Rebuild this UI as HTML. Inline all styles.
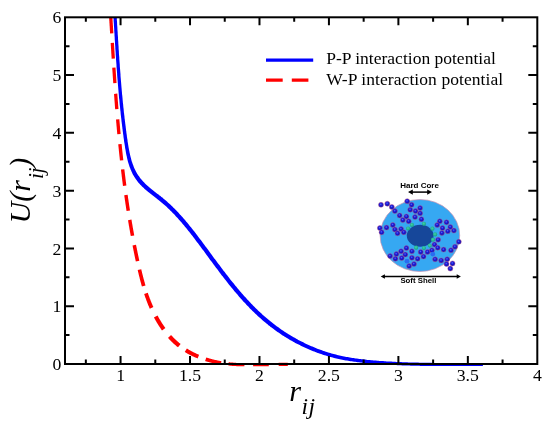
<!DOCTYPE html>
<html><head><meta charset="utf-8"><title>Interaction potential</title>
<style>html,body{margin:0;padding:0;background:#fff}svg{display:block}text{font-family:"Liberation Serif",serif;fill:#000}.s{font-family:"Liberation Sans",sans-serif;font-weight:bold}</style></head><body>
<svg width="550" height="426" viewBox="0 0 550 426">
<rect width="550" height="426" fill="#fff"/>
<defs><clipPath id="c"><rect x="65.0" y="17.3" width="472.3" height="349.7"/></clipPath>
<radialGradient id="g" cx="45%" cy="40%" r="60%"><stop offset="0" stop-color="#5868f8"/><stop offset="0.4" stop-color="#1a1ad8"/><stop offset="1" stop-color="#1010a8"/></radialGradient>
<radialGradient id="t" cx="45%" cy="40%" r="60%"><stop offset="0" stop-color="#40d0a8"/><stop offset="1" stop-color="#14a080"/></radialGradient>
</defs>
<g clip-path="url(#c)" fill="none" stroke-linejoin="round">
<path d="M108.8,11.4L108.8,11.7L108.8,12.0L108.8,12.3L108.8,12.7L108.9,13.0L108.9,13.3L108.9,13.6L108.9,13.9L108.9,14.2L109.0,14.6L109.0,14.9L109.0,15.2L109.0,15.5L109.0,15.8L109.0,16.1L109.1,16.5L109.1,16.8L109.1,17.1L109.1,17.4L109.1,17.7L109.2,18.0L109.2,18.3L109.2,18.7L109.2,19.0L109.2,19.3L109.3,19.6L109.3,19.9L109.3,20.2L109.3,20.6L109.3,20.9L109.4,21.2L109.4,21.5L109.4,21.8L109.4,22.1L109.4,22.5L109.4,22.8L109.5,23.1L109.5,23.4L109.5,23.7L109.5,24.0L109.5,24.3L109.6,24.7L109.6,25.0L109.6,25.3L109.6,25.6L109.6,25.9L109.7,26.2L109.7,26.6L109.7,26.9L109.7,27.2L109.7,27.5L109.8,27.8L109.8,28.1L109.8,28.4L109.8,28.8L109.8,29.1L109.8,29.4L109.9,29.7L109.9,30.0L109.9,30.3L109.9,30.7L109.9,31.0L110.0,31.3L110.0,31.6L110.0,31.9L110.0,32.2L110.0,32.5L110.1,32.9L110.1,33.2L110.1,33.5L113.4,33.3L113.4,33.0L113.3,32.7L113.3,32.3L113.3,32.0L113.3,31.7L113.3,31.4L113.2,31.1L113.2,30.8L113.2,30.5L113.2,30.1L113.2,29.8L113.1,29.5L113.1,29.2L113.1,28.9L113.1,28.6L113.1,28.2L113.0,27.9L113.0,27.6L113.0,27.3L113.0,27.0L113.0,26.7L113.0,26.4L112.9,26.0L112.9,25.7L112.9,25.4L112.9,25.1L112.9,24.8L112.8,24.5L112.8,24.1L112.8,23.8L112.8,23.5L112.8,23.2L112.7,22.9L112.7,22.6L112.7,22.3L112.7,21.9L112.7,21.6L112.6,21.3L112.6,21.0L112.6,20.7L112.6,20.4L112.6,20.0L112.6,19.7L112.5,19.4L112.5,19.1L112.5,18.8L112.5,18.5L112.5,18.1L112.4,17.8L112.4,17.5L112.4,17.2L112.4,16.9L112.4,16.6L112.3,16.3L112.3,15.9L112.3,15.6L112.3,15.3L112.3,15.0L112.2,14.7L112.2,14.4L112.2,14.0L112.2,13.7L112.2,13.4L112.2,13.1L112.1,12.8L112.1,12.5L112.1,12.1L112.1,11.8L112.1,11.5L112.0,11.2ZM110.7,42.9L110.7,43.3L110.7,43.6L110.7,43.9L110.7,44.2L110.8,44.5L110.8,44.8L110.8,45.2L110.8,45.5L110.8,45.8L110.9,46.1L110.9,46.4L110.9,46.7L110.9,47.0L110.9,47.4L111.0,47.7L111.0,48.0L111.0,48.3L111.0,48.6L111.0,48.9L111.1,49.2L111.1,49.6L111.1,49.9L111.1,50.2L111.1,50.5L111.2,50.8L111.2,51.1L111.2,51.4L111.2,51.8L111.2,52.1L111.2,52.4L111.3,52.7L111.3,53.0L111.3,53.3L111.3,53.7L111.3,54.0L111.4,54.3L111.4,54.6L111.4,54.9L111.4,55.2L111.4,55.5L111.5,55.9L111.5,56.2L111.5,56.5L111.5,56.8L111.5,57.1L111.6,57.4L111.6,57.7L111.6,58.1L111.6,58.4L111.6,58.7L114.9,58.5L114.9,58.2L114.9,57.9L114.9,57.5L114.8,57.2L114.8,56.9L114.8,56.6L114.8,56.3L114.8,56.0L114.7,55.6L114.7,55.3L114.7,55.0L114.7,54.7L114.7,54.4L114.6,54.1L114.6,53.8L114.6,53.4L114.6,53.1L114.6,52.8L114.5,52.5L114.5,52.2L114.5,51.9L114.5,51.6L114.5,51.2L114.4,50.9L114.4,50.6L114.4,50.3L114.4,50.0L114.4,49.7L114.4,49.4L114.3,49.0L114.3,48.7L114.3,48.4L114.3,48.1L114.3,47.8L114.2,47.5L114.2,47.2L114.2,46.8L114.2,46.5L114.2,46.2L114.1,45.9L114.1,45.6L114.1,45.3L114.1,45.0L114.1,44.6L114.0,44.3L114.0,44.0L114.0,43.7L114.0,43.4L114.0,43.1L113.9,42.7ZM112.2,67.8L112.2,68.1L112.3,68.4L112.3,68.8L112.3,69.1L112.3,69.4L112.3,69.7L112.4,70.0L112.4,70.3L112.4,70.6L112.4,71.0L112.4,71.3L112.5,71.6L112.5,71.9L112.5,72.2L112.5,72.5L112.6,72.8L112.6,73.2L112.6,73.5L112.6,73.8L112.6,74.1L112.7,74.4L112.7,74.7L112.7,75.0L112.7,75.4L112.7,75.7L112.8,76.0L112.8,76.3L112.8,76.6L112.8,76.9L112.8,77.2L112.9,77.6L112.9,77.9L112.9,78.2L112.9,78.5L113.0,78.8L113.0,79.1L113.0,79.4L113.0,79.8L113.0,80.1L113.1,80.4L113.1,80.7L113.1,81.0L113.1,81.3L113.1,81.6L113.2,81.9L113.2,82.3L113.2,82.6L113.2,82.9L113.3,83.2L116.5,83.0L116.5,82.7L116.5,82.4L116.5,82.0L116.5,81.7L116.4,81.4L116.4,81.1L116.4,80.8L116.4,80.5L116.3,80.2L116.3,79.8L116.3,79.5L116.3,79.2L116.3,78.9L116.2,78.6L116.2,78.3L116.2,78.0L116.2,77.6L116.2,77.3L116.1,77.0L116.1,76.7L116.1,76.4L116.1,76.1L116.1,75.8L116.0,75.4L116.0,75.1L116.0,74.8L116.0,74.5L115.9,74.2L115.9,73.9L115.9,73.6L115.9,73.2L115.9,72.9L115.8,72.6L115.8,72.3L115.8,72.0L115.8,71.7L115.8,71.4L115.7,71.1L115.7,70.7L115.7,70.4L115.7,70.1L115.7,69.8L115.6,69.5L115.6,69.2L115.6,68.9L115.6,68.5L115.6,68.2L115.5,67.9L115.5,67.6ZM114.0,93.9L114.0,94.2L114.1,94.5L114.1,94.8L114.1,95.1L114.1,95.4L114.1,95.8L114.2,96.1L114.2,96.4L114.2,96.7L114.2,97.0L114.3,97.3L114.3,97.6L114.3,98.0L114.3,98.3L114.4,98.6L114.4,98.9L114.4,99.2L114.4,99.5L114.4,99.8L114.5,100.2L114.5,100.5L114.5,100.8L114.5,101.1L114.6,101.4L114.6,101.7L114.6,102.0L114.6,102.3L114.7,102.7L114.7,103.0L114.7,103.3L114.7,103.6L114.8,103.9L114.8,104.2L114.8,104.5L114.8,104.9L114.8,105.2L114.9,105.5L114.9,105.8L114.9,106.1L114.9,106.4L115.0,106.7L115.0,107.1L115.0,107.4L115.0,107.7L115.1,108.0L115.1,108.3L115.1,108.6L115.1,108.9L115.2,109.2L118.5,109.0L118.5,108.7L118.4,108.4L118.4,108.0L118.4,107.7L118.4,107.4L118.3,107.1L118.3,106.8L118.3,106.5L118.3,106.2L118.2,105.9L118.2,105.5L118.2,105.2L118.2,104.9L118.1,104.6L118.1,104.3L118.1,104.0L118.1,103.7L118.0,103.3L118.0,103.0L118.0,102.7L118.0,102.4L117.9,102.1L117.9,101.8L117.9,101.5L117.9,101.2L117.8,100.8L117.8,100.5L117.8,100.2L117.8,99.9L117.7,99.6L117.7,99.3L117.7,99.0L117.7,98.7L117.7,98.3L117.6,98.0L117.6,97.7L117.6,97.4L117.6,97.1L117.5,96.8L117.5,96.5L117.5,96.1L117.5,95.8L117.4,95.5L117.4,95.2L117.4,94.9L117.4,94.6L117.4,94.3L117.3,94.0L117.3,93.6ZM116.0,119.6L116.0,119.9L116.1,120.2L116.1,120.5L116.1,120.8L116.1,121.2L116.2,121.5L116.2,121.8L116.2,122.1L116.2,122.4L116.3,122.7L116.3,123.0L116.3,123.3L116.4,123.7L116.4,124.0L116.4,124.3L116.4,124.6L116.5,124.9L116.5,125.2L116.5,125.5L116.5,125.9L116.6,126.2L116.6,126.5L116.6,126.8L116.7,127.1L116.7,127.4L116.7,127.7L116.7,128.0L116.8,128.4L116.8,128.7L116.8,129.0L116.8,129.3L116.9,129.6L116.9,129.9L116.9,130.2L117.0,130.5L117.0,130.9L117.0,131.2L117.0,131.5L117.1,131.8L117.1,132.1L117.1,132.4L117.2,132.7L117.2,133.1L117.2,133.4L117.2,133.7L117.3,134.0L117.3,134.3L120.6,134.0L120.6,133.7L120.6,133.4L120.5,133.1L120.5,132.7L120.5,132.4L120.5,132.1L120.4,131.8L120.4,131.5L120.4,131.2L120.3,130.9L120.3,130.6L120.3,130.2L120.3,129.9L120.2,129.6L120.2,129.3L120.2,129.0L120.1,128.7L120.1,128.4L120.1,128.1L120.1,127.7L120.0,127.4L120.0,127.1L120.0,126.8L120.0,126.5L119.9,126.2L119.9,125.9L119.9,125.6L119.8,125.2L119.8,124.9L119.8,124.6L119.8,124.3L119.7,124.0L119.7,123.7L119.7,123.4L119.7,123.1L119.6,122.7L119.6,122.4L119.6,122.1L119.5,121.8L119.5,121.5L119.5,121.2L119.5,120.9L119.4,120.6L119.4,120.2L119.4,119.9L119.4,119.6L119.3,119.3ZM118.3,144.3L118.3,144.6L118.3,144.9L118.3,145.3L118.4,145.6L118.4,145.9L118.4,146.2L118.5,146.5L118.5,146.8L118.5,147.1L118.6,147.4L118.6,147.8L118.6,148.1L118.7,148.4L118.7,148.7L118.7,149.0L118.8,149.3L118.8,149.6L118.8,149.9L118.8,150.3L118.9,150.6L118.9,150.9L118.9,151.2L119.0,151.5L119.0,151.8L119.0,152.1L119.1,152.4L119.1,152.8L119.1,153.1L119.2,153.4L119.2,153.7L119.2,154.0L119.3,154.3L119.3,154.6L119.3,154.9L119.4,155.3L119.4,155.6L119.4,155.9L119.5,156.2L119.5,156.5L119.5,156.8L119.6,157.1L119.6,157.4L119.6,157.8L119.7,158.1L119.7,158.4L119.7,158.7L119.8,159.0L119.8,159.3L119.8,159.6L119.9,159.9L119.9,160.3L119.9,160.6L123.3,160.2L123.3,159.9L123.2,159.6L123.2,159.3L123.2,159.0L123.1,158.6L123.1,158.3L123.1,158.0L123.0,157.7L123.0,157.4L123.0,157.1L122.9,156.8L122.9,156.5L122.9,156.1L122.8,155.8L122.8,155.5L122.8,155.2L122.7,154.9L122.7,154.6L122.7,154.3L122.6,154.0L122.6,153.7L122.6,153.3L122.5,153.0L122.5,152.7L122.5,152.4L122.4,152.1L122.4,151.8L122.4,151.5L122.3,151.2L122.3,150.8L122.3,150.5L122.2,150.2L122.2,149.9L122.2,149.6L122.1,149.3L122.1,149.0L122.1,148.7L122.0,148.4L122.0,148.0L122.0,147.7L121.9,147.4L121.9,147.1L121.9,146.8L121.9,146.5L121.8,146.2L121.8,145.9L121.8,145.5L121.7,145.2L121.7,144.9L121.7,144.6L121.6,144.3L121.6,144.0ZM121.0,169.6L121.0,169.9L121.0,170.3L121.1,170.6L121.1,170.9L121.1,171.2L121.2,171.5L121.2,171.8L121.3,172.1L121.3,172.4L121.3,172.8L121.4,173.1L121.4,173.4L121.4,173.7L121.5,174.0L121.5,174.3L121.6,174.6L121.6,174.9L121.6,175.3L121.7,175.6L121.7,175.9L121.7,176.2L121.8,176.5L121.8,176.8L121.9,177.1L121.9,177.4L121.9,177.8L122.0,178.1L122.0,178.4L122.1,178.7L122.1,179.0L122.1,179.3L122.2,179.6L122.2,179.9L122.2,180.3L122.3,180.6L122.3,180.9L122.4,181.2L122.4,181.5L122.4,181.8L122.5,182.1L122.5,182.4L122.6,182.7L122.6,183.1L122.6,183.4L122.7,183.7L122.7,184.0L122.8,184.3L122.8,184.6L122.8,184.9L122.9,185.2L122.9,185.6L123.0,185.9L126.4,185.4L126.3,185.1L126.3,184.8L126.3,184.5L126.2,184.2L126.2,183.9L126.1,183.6L126.1,183.2L126.0,182.9L126.0,182.6L126.0,182.3L125.9,182.0L125.9,181.7L125.8,181.4L125.8,181.1L125.8,180.8L125.7,180.4L125.7,180.1L125.6,179.8L125.6,179.5L125.6,179.2L125.5,178.9L125.5,178.6L125.4,178.3L125.4,178.0L125.4,177.6L125.3,177.3L125.3,177.0L125.3,176.7L125.2,176.4L125.2,176.1L125.1,175.8L125.1,175.5L125.1,175.2L125.0,174.8L125.0,174.5L124.9,174.2L124.9,173.9L124.9,173.6L124.8,173.3L124.8,173.0L124.8,172.7L124.7,172.3L124.7,172.0L124.6,171.7L124.6,171.4L124.6,171.1L124.5,170.8L124.5,170.5L124.5,170.2L124.4,169.9L124.4,169.5L124.3,169.2ZM124.2,195.2L124.3,195.5L124.3,195.9L124.4,196.2L124.4,196.5L124.4,196.8L124.5,197.1L124.5,197.4L124.6,197.7L124.6,198.0L124.7,198.3L124.7,198.7L124.8,199.0L124.8,199.3L124.8,199.6L124.9,199.9L124.9,200.2L125.0,200.5L125.0,200.8L125.1,201.2L125.1,201.5L125.2,201.8L125.2,202.1L125.3,202.4L125.3,202.7L125.3,203.0L125.4,203.3L125.4,203.7L125.5,204.0L125.5,204.3L125.6,204.6L125.6,204.9L125.7,205.2L125.7,205.5L125.8,205.8L125.8,206.1L125.9,206.5L125.9,206.8L125.9,207.1L126.0,207.4L126.0,207.7L126.1,208.0L126.1,208.3L126.2,208.6L126.2,209.0L126.3,209.3L126.3,209.6L126.4,209.9L126.4,210.2L126.5,210.5L126.5,210.8L126.6,211.1L130.0,210.6L130.0,210.3L129.9,210.0L129.9,209.7L129.8,209.4L129.8,209.0L129.7,208.7L129.7,208.4L129.6,208.1L129.6,207.8L129.5,207.5L129.5,207.2L129.4,206.9L129.4,206.6L129.3,206.2L129.3,205.9L129.2,205.6L129.2,205.3L129.1,205.0L129.1,204.7L129.1,204.4L129.0,204.1L129.0,203.8L128.9,203.5L128.9,203.1L128.8,202.8L128.8,202.5L128.7,202.2L128.7,201.9L128.6,201.6L128.6,201.3L128.5,201.0L128.5,200.7L128.5,200.3L128.4,200.0L128.4,199.7L128.3,199.4L128.3,199.1L128.2,198.8L128.2,198.5L128.1,198.2L128.1,197.9L128.0,197.5L128.0,197.2L128.0,196.9L127.9,196.6L127.9,196.3L127.8,196.0L127.8,195.7L127.7,195.4L127.7,195.1L127.6,194.8ZM128.0,220.2L128.1,220.5L128.1,220.8L128.2,221.1L128.2,221.4L128.3,221.7L128.3,222.0L128.4,222.4L128.4,222.7L128.5,223.0L128.5,223.3L128.6,223.6L128.6,223.9L128.7,224.2L128.7,224.5L128.8,224.8L128.8,225.2L128.9,225.5L128.9,225.8L129.0,226.1L129.1,226.4L129.1,226.7L129.2,227.0L129.2,227.3L129.3,227.7L129.3,228.0L129.4,228.3L129.4,228.6L129.5,228.9L129.5,229.2L129.6,229.5L129.6,229.8L129.7,230.1L129.8,230.5L129.8,230.8L129.9,231.1L129.9,231.4L130.0,231.7L130.0,232.0L130.1,232.3L130.1,232.6L130.2,232.9L130.3,233.3L130.3,233.6L130.4,233.9L130.4,234.2L130.5,234.5L130.5,234.8L130.6,235.1L130.7,235.4L130.7,235.8L130.8,236.1L134.2,235.4L134.2,235.1L134.1,234.8L134.1,234.5L134.0,234.2L134.0,233.9L133.9,233.6L133.8,233.3L133.8,232.9L133.7,232.6L133.7,232.3L133.6,232.0L133.6,231.7L133.5,231.4L133.5,231.1L133.4,230.8L133.3,230.5L133.3,230.2L133.2,229.8L133.2,229.5L133.1,229.2L133.1,228.9L133.0,228.6L133.0,228.3L132.9,228.0L132.8,227.7L132.8,227.4L132.7,227.0L132.7,226.7L132.6,226.4L132.6,226.1L132.5,225.8L132.5,225.5L132.4,225.2L132.4,224.9L132.3,224.6L132.3,224.3L132.2,223.9L132.1,223.6L132.1,223.3L132.0,223.0L132.0,222.7L131.9,222.4L131.9,222.1L131.8,221.8L131.8,221.5L131.7,221.2L131.7,220.8L131.6,220.5L131.6,220.2L131.5,219.9L131.5,219.6ZM132.5,245.4L132.6,245.7L132.6,246.0L132.7,246.3L132.8,246.7L132.8,247.0L132.9,247.3L132.9,247.6L133.0,247.9L133.1,248.2L133.1,248.5L133.2,248.8L133.3,249.1L133.3,249.5L133.4,249.8L133.4,250.1L133.5,250.4L133.6,250.7L133.6,251.0L133.7,251.3L133.8,251.6L133.8,251.9L133.9,252.3L133.9,252.6L134.0,252.9L134.1,253.2L134.1,253.5L134.2,253.8L134.3,254.1L134.3,254.4L134.4,254.7L134.5,255.1L134.5,255.4L134.6,255.7L134.6,256.0L134.7,256.3L134.8,256.6L134.8,256.9L134.9,257.2L135.0,257.5L135.0,257.9L135.1,258.2L135.2,258.5L135.2,258.8L135.3,259.1L135.4,259.4L135.4,259.7L135.5,260.0L135.6,260.4L135.6,260.7L135.7,261.0L135.8,261.3L135.8,261.6L139.4,260.8L139.3,260.5L139.2,260.2L139.1,259.9L139.1,259.6L139.0,259.3L138.9,259.0L138.9,258.7L138.8,258.4L138.8,258.0L138.7,257.7L138.6,257.4L138.6,257.1L138.5,256.8L138.4,256.5L138.4,256.2L138.3,255.9L138.2,255.6L138.2,255.3L138.1,254.9L138.0,254.6L138.0,254.3L137.9,254.0L137.8,253.7L137.8,253.4L137.7,253.1L137.6,252.8L137.6,252.5L137.5,252.2L137.5,251.9L137.4,251.5L137.3,251.2L137.3,250.9L137.2,250.6L137.1,250.3L137.1,250.0L137.0,249.7L136.9,249.4L136.9,249.1L136.8,248.8L136.8,248.4L136.7,248.1L136.6,247.8L136.6,247.5L136.5,247.2L136.4,246.9L136.4,246.6L136.3,246.3L136.3,246.0L136.2,245.7L136.1,245.3L136.1,245.0L136.0,244.7ZM137.7,270.0L137.8,270.3L137.8,270.6L137.9,270.9L138.0,271.2L138.0,271.6L138.1,271.9L138.2,272.2L138.3,272.5L138.3,272.8L138.4,273.1L138.5,273.4L138.6,273.7L138.6,274.0L138.7,274.4L138.8,274.7L138.9,275.0L138.9,275.3L139.0,275.6L139.1,275.9L139.2,276.2L139.2,276.5L139.3,276.8L139.4,277.1L139.5,277.5L139.6,277.8L139.6,278.1L139.7,278.4L139.8,278.7L139.9,279.0L139.9,279.3L140.0,279.6L140.1,279.9L140.2,280.2L140.3,280.6L140.3,280.9L140.4,281.2L140.5,281.5L140.6,281.8L140.7,282.1L140.8,282.4L140.8,282.7L140.9,283.0L141.0,283.3L141.1,283.6L141.2,283.9L141.3,284.3L141.3,284.6L141.4,284.9L141.5,285.2L141.6,285.5L141.7,285.8L141.8,286.1L141.9,286.4L145.5,285.4L145.4,285.1L145.3,284.8L145.2,284.5L145.1,284.2L145.0,283.9L144.9,283.6L144.8,283.2L144.8,282.9L144.7,282.6L144.6,282.3L144.5,282.0L144.4,281.7L144.3,281.4L144.3,281.1L144.2,280.8L144.1,280.5L144.0,280.2L143.9,279.9L143.8,279.6L143.8,279.3L143.7,279.0L143.6,278.7L143.5,278.4L143.4,278.1L143.4,277.8L143.3,277.5L143.2,277.2L143.1,276.9L143.0,276.6L143.0,276.2L142.9,275.9L142.8,275.6L142.7,275.3L142.6,275.0L142.6,274.7L142.5,274.4L142.4,274.1L142.3,273.8L142.3,273.5L142.2,273.2L142.1,272.9L142.0,272.6L142.0,272.3L141.9,272.0L141.8,271.6L141.7,271.3L141.7,271.0L141.6,270.7L141.5,270.4L141.4,270.1L141.4,269.8L141.3,269.5L141.2,269.2ZM144.2,294.1L144.3,294.4L144.4,294.7L144.5,295.0L144.6,295.3L144.7,295.6L144.8,295.9L144.9,296.2L145.0,296.5L145.1,296.8L145.2,297.1L145.3,297.4L145.4,297.7L145.5,298.0L145.7,298.3L145.8,298.6L145.9,298.9L146.0,299.2L146.1,299.5L146.2,299.8L146.3,300.1L146.4,300.4L146.5,300.7L146.6,301.0L146.7,301.3L146.9,301.6L147.0,301.9L147.1,302.2L147.2,302.5L147.3,302.8L147.4,303.1L147.6,303.4L147.7,303.7L147.8,304.0L147.9,304.3L148.0,304.6L148.1,304.9L148.3,305.2L148.4,305.5L148.5,305.8L148.6,306.1L148.8,306.3L148.9,306.6L149.0,306.9L149.1,307.2L149.2,307.5L149.4,307.8L149.5,308.1L149.6,308.4L149.8,308.7L153.4,307.1L153.3,306.8L153.1,306.5L153.0,306.2L152.9,306.0L152.8,305.7L152.6,305.4L152.5,305.1L152.4,304.8L152.3,304.5L152.1,304.2L152.0,304.0L151.9,303.7L151.8,303.4L151.7,303.1L151.5,302.8L151.4,302.5L151.3,302.2L151.2,301.9L151.1,301.6L150.9,301.4L150.8,301.1L150.7,300.8L150.6,300.5L150.5,300.2L150.4,299.9L150.3,299.6L150.2,299.3L150.0,299.0L149.9,298.7L149.8,298.4L149.7,298.2L149.6,297.9L149.5,297.6L149.4,297.3L149.3,297.0L149.2,296.7L149.1,296.4L149.0,296.1L148.8,295.8L148.7,295.5L148.6,295.2L148.5,294.9L148.4,294.6L148.3,294.3L148.2,294.0L148.1,293.7L148.0,293.4L147.9,293.1L147.8,292.8ZM153.9,317.4L154.1,317.7L154.2,317.9L154.4,318.2L154.5,318.5L154.7,318.8L154.8,319.1L155.0,319.4L155.2,319.6L155.3,319.9L155.5,320.2L155.6,320.5L155.8,320.8L155.9,321.0L156.1,321.3L156.3,321.6L156.4,321.9L156.6,322.1L156.7,322.4L156.9,322.7L157.1,323.0L157.2,323.2L157.4,323.5L157.6,323.8L157.7,324.1L157.9,324.3L158.1,324.6L158.2,324.9L158.4,325.1L158.6,325.4L158.8,325.7L158.9,326.0L159.1,326.2L159.3,326.5L159.5,326.8L159.6,327.0L159.8,327.3L160.0,327.6L160.2,327.8L160.3,328.1L160.5,328.3L160.7,328.6L160.9,328.9L161.1,329.1L161.2,329.4L161.4,329.7L161.6,329.9L161.8,330.2L162.0,330.4L165.4,328.0L165.2,327.7L165.0,327.5L164.8,327.2L164.7,327.0L164.5,326.7L164.3,326.5L164.1,326.2L164.0,326.0L163.8,325.7L163.6,325.5L163.4,325.2L163.3,325.0L163.1,324.7L162.9,324.5L162.8,324.2L162.6,323.9L162.4,323.7L162.2,323.4L162.1,323.2L161.9,322.9L161.7,322.7L161.6,322.4L161.4,322.1L161.3,321.9L161.1,321.6L160.9,321.4L160.8,321.1L160.6,320.8L160.4,320.6L160.3,320.3L160.1,320.0L160.0,319.8L159.8,319.5L159.6,319.2L159.5,319.0L159.3,318.7L159.2,318.4L159.0,318.2L158.9,317.9L158.7,317.6L158.6,317.4L158.4,317.1L158.3,316.8L158.1,316.5L158.0,316.3L157.8,316.0L157.7,315.7L157.5,315.5ZM167.9,337.9L168.1,338.1L168.3,338.3L168.6,338.6L168.8,338.8L169.0,339.0L169.2,339.3L169.4,339.5L169.6,339.7L169.9,339.9L170.1,340.2L170.3,340.4L170.5,340.6L170.7,340.8L171.0,341.1L171.2,341.3L171.4,341.5L171.6,341.7L171.8,342.0L172.1,342.2L172.3,342.4L172.5,342.6L172.8,342.8L173.0,343.0L173.2,343.3L173.4,343.5L173.7,343.7L173.9,343.9L174.1,344.1L174.4,344.3L174.6,344.5L174.8,344.7L175.1,344.9L175.3,345.1L175.6,345.3L175.8,345.5L176.0,345.8L176.3,346.0L176.5,346.2L176.8,346.4L177.0,346.6L177.3,346.7L177.5,346.9L177.7,347.1L178.0,347.3L180.6,344.0L180.4,343.8L180.1,343.6L179.9,343.5L179.7,343.3L179.4,343.1L179.2,342.9L179.0,342.7L178.8,342.5L178.5,342.3L178.3,342.1L178.1,341.9L177.9,341.7L177.6,341.5L177.4,341.3L177.2,341.1L177.0,341.0L176.8,340.8L176.5,340.6L176.3,340.3L176.1,340.1L175.9,339.9L175.7,339.7L175.5,339.5L175.2,339.3L175.0,339.1L174.8,338.9L174.6,338.7L174.4,338.5L174.2,338.3L174.0,338.1L173.8,337.9L173.5,337.6L173.3,337.4L173.1,337.2L172.9,337.0L172.7,336.8L172.5,336.6L172.3,336.3L172.1,336.1L171.9,335.9L171.7,335.7L171.5,335.5L171.3,335.2L171.1,335.0ZM184.7,352.0L185.0,352.1L185.2,352.3L185.5,352.5L185.8,352.6L186.0,352.8L186.3,352.9L186.6,353.1L186.8,353.3L187.1,353.4L187.4,353.6L187.7,353.7L187.9,353.9L188.2,354.0L188.5,354.2L188.8,354.3L189.0,354.5L189.3,354.6L189.6,354.8L189.9,354.9L190.2,355.1L190.4,355.2L190.7,355.3L191.0,355.5L191.3,355.6L191.6,355.8L191.9,355.9L192.1,356.0L192.4,356.2L192.7,356.3L193.0,356.4L193.3,356.6L193.6,356.7L193.9,356.8L194.1,357.0L194.4,357.1L194.7,357.2L195.0,357.4L195.3,357.5L195.6,357.6L195.9,357.7L196.2,357.8L196.5,358.0L196.8,358.1L197.0,358.2L197.3,358.3L197.6,358.4L199.1,354.8L198.8,354.7L198.6,354.6L198.3,354.5L198.0,354.3L197.7,354.2L197.4,354.1L197.2,354.0L196.9,353.9L196.6,353.7L196.3,353.6L196.1,353.5L195.8,353.3L195.5,353.2L195.3,353.1L195.0,353.0L194.7,352.8L194.4,352.7L194.2,352.6L193.9,352.4L193.6,352.3L193.4,352.2L193.1,352.0L192.8,351.9L192.6,351.7L192.3,351.6L192.0,351.5L191.8,351.3L191.5,351.2L191.2,351.0L191.0,350.9L190.7,350.8L190.5,350.6L190.2,350.5L189.9,350.3L189.7,350.2L189.4,350.0L189.2,349.9L188.9,349.7L188.7,349.6L188.4,349.4L188.1,349.3L187.9,349.1L187.6,348.9L187.4,348.8L187.1,348.6L186.9,348.5ZM205.1,361.1L205.4,361.2L205.8,361.3L206.1,361.4L206.4,361.4L206.7,361.5L207.0,361.6L207.3,361.7L207.6,361.8L207.9,361.9L208.2,362.0L208.5,362.0L208.8,362.1L209.2,362.2L209.5,362.3L209.8,362.4L210.1,362.5L210.4,362.5L210.7,362.6L211.0,362.7L211.3,362.8L211.6,362.8L212.0,362.9L212.3,363.0L212.6,363.1L212.9,363.1L213.2,363.2L213.5,363.3L213.9,363.3L214.2,363.4L214.5,363.5L214.8,363.5L215.1,363.6L215.4,363.7L215.7,363.7L216.1,363.8L216.4,363.8L216.7,363.9L217.0,364.0L217.3,364.0L217.7,364.1L218.0,364.1L218.3,364.2L218.6,364.3L218.9,364.3L219.3,364.4L219.6,364.4L219.9,364.5L220.2,364.5L220.5,364.6L220.9,364.6L221.4,361.2L221.1,361.1L220.8,361.1L220.5,361.0L220.2,361.0L219.9,360.9L219.6,360.8L219.2,360.8L218.9,360.7L218.6,360.7L218.3,360.6L218.0,360.5L217.7,360.5L217.4,360.4L217.1,360.3L216.8,360.3L216.5,360.2L216.2,360.1L215.9,360.1L215.6,360.0L215.3,359.9L214.9,359.9L214.6,359.8L214.3,359.7L214.0,359.7L213.7,359.6L213.4,359.5L213.1,359.4L212.8,359.4L212.5,359.3L212.2,359.2L211.9,359.1L211.6,359.0L211.3,359.0L211.0,358.9L210.7,358.8L210.4,358.7L210.1,358.6L209.8,358.6L209.5,358.5L209.2,358.4L208.9,358.3L208.6,358.2L208.3,358.1L208.0,358.0L207.7,357.9L207.5,357.8L207.2,357.8L206.9,357.7L206.6,357.6L206.3,357.5ZM228.3,365.6L228.6,365.6L229.0,365.6L229.3,365.6L229.6,365.7L229.9,365.7L230.3,365.7L230.6,365.8L230.9,365.8L231.2,365.8L231.6,365.8L231.9,365.9L232.2,365.9L232.5,365.9L232.9,365.9L233.2,366.0L233.5,366.0L233.8,366.0L234.2,366.0L234.5,366.0L234.8,366.1L235.2,366.1L235.5,366.1L235.8,366.1L236.1,366.1L236.5,366.2L236.8,366.2L237.1,366.2L237.4,366.2L237.8,366.2L238.2,366.2L238.5,366.2L238.8,366.2L239.2,366.2L239.5,366.2L239.8,366.2L240.1,366.2L240.5,366.2L240.8,366.2L241.1,366.2L241.4,366.2L241.8,366.2L242.1,366.2L242.4,366.2L242.7,366.2L243.1,366.2L243.4,366.2L243.7,366.2L244.0,366.2L244.4,366.2L244.4,363.0L244.0,363.0L243.7,363.0L243.4,363.0L243.1,363.0L242.7,363.0L242.4,363.0L242.1,363.0L241.8,363.0L241.4,363.0L241.1,363.0L240.8,363.0L240.5,363.0L240.1,363.0L239.8,363.0L239.5,363.0L239.2,363.0L238.8,363.0L238.5,363.0L238.2,363.0L237.9,363.0L237.6,362.9L237.3,362.9L237.0,362.9L236.7,362.9L236.3,362.9L236.0,362.8L235.7,362.8L235.4,362.8L235.0,362.8L234.7,362.8L234.4,362.7L234.1,362.7L233.8,362.7L233.4,362.7L233.1,362.6L232.8,362.6L232.5,362.6L232.2,362.5L231.8,362.5L231.5,362.5L231.2,362.5L230.9,362.4L230.6,362.4L230.2,362.4L229.9,362.3L229.6,362.3L229.3,362.3L229.0,362.2L228.7,362.2ZM253.1,366.2L253.4,366.2L253.8,366.2L254.1,366.2L254.4,366.2L254.7,366.2L255.1,366.2L255.4,366.2L255.7,366.2L256.0,366.2L256.3,366.2L256.7,366.2L257.0,366.2L257.3,366.2L257.6,366.2L258.0,366.2L258.3,366.2L258.6,366.2L258.9,366.2L259.2,366.2L259.6,366.2L259.9,366.2L260.2,366.2L260.5,366.2L260.8,366.2L261.2,366.2L261.5,366.2L261.8,366.2L262.1,366.2L262.4,366.2L262.8,366.2L263.1,366.2L263.4,366.2L263.7,366.2L264.0,366.2L264.3,366.2L264.7,366.2L265.0,366.2L265.3,366.2L265.6,366.2L265.9,366.2L266.2,366.2L266.6,366.2L266.9,366.2L267.2,366.2L267.5,366.2L267.8,366.2L268.1,366.2L268.5,366.2L268.8,366.2L268.7,363.0L268.4,363.0L268.1,363.0L267.8,363.0L267.5,363.0L267.2,363.0L266.9,363.0L266.6,363.0L266.2,363.0L265.9,363.0L265.6,363.0L265.3,363.0L265.0,363.0L264.7,363.0L264.3,363.0L264.0,363.0L263.7,363.0L263.4,363.0L263.1,363.0L262.8,363.0L262.4,363.0L262.1,363.0L261.8,363.0L261.5,363.0L261.2,363.0L260.8,363.0L260.5,363.0L260.2,363.0L259.9,363.0L259.6,363.0L259.2,363.0L258.9,363.0L258.6,363.0L258.3,363.0L258.0,363.0L257.6,363.0L257.3,363.0L257.0,363.0L256.7,363.0L256.3,363.0L256.0,363.0L255.7,363.0L255.4,363.0L255.1,363.0L254.7,363.0L254.4,363.0L254.1,363.0L253.8,363.0L253.4,363.0L253.1,363.0ZM278.7,366.0L279.0,366.0L279.3,366.0L279.6,365.9L279.9,365.9L280.2,365.9L280.5,365.9L280.8,365.9L281.1,365.9L281.4,365.9L281.6,365.9L281.9,365.9L282.2,365.9L282.5,365.9L282.8,365.9L283.1,365.9L283.4,365.9L283.7,365.9L284.0,365.9L284.3,365.9L284.6,365.9L284.9,365.9L285.2,365.9L285.5,365.9L285.8,365.9L286.0,365.9L286.3,365.9L286.6,365.9L286.9,365.9L287.2,365.9L287.5,365.9L287.8,365.9L287.8,362.8L287.5,362.8L287.2,362.8L286.9,362.8L286.7,362.8L286.4,362.7L286.1,362.7L285.8,362.7L285.5,362.7L285.2,362.7L284.9,362.7L284.6,362.7L284.3,362.8L284.0,362.7L283.7,362.7L283.4,362.7L283.1,362.7L282.8,362.7L282.5,362.7L282.2,362.8L281.9,362.8L281.6,362.8L281.3,362.8L281.0,362.8L280.7,362.8L280.4,362.8L280.1,362.8L279.8,362.8L279.5,362.8L279.2,362.8L278.9,362.8L278.6,362.8Z" fill="#f00"/>
<path d="M112.3,-0.0L112.4,1.2L112.5,2.4L112.6,3.7L112.7,4.9L112.7,6.1L112.8,7.4L112.9,8.6L113.0,9.8L113.0,11.0L113.1,12.3L113.2,13.5L113.3,14.7L113.3,15.9L113.4,17.1L113.5,18.3L113.6,19.6L113.6,20.8L113.7,22.0L113.8,23.2L113.9,24.4L113.9,25.6L114.0,26.8L114.1,28.0L114.2,29.2L114.2,30.4L114.3,31.7L114.4,32.9L114.5,34.1L114.5,35.3L114.6,36.5L114.7,37.7L114.7,38.9L114.8,40.1L114.9,41.3L115.0,42.5L115.0,43.6L115.1,44.8L115.2,46.0L115.3,47.2L115.3,48.4L115.4,49.6L115.5,50.8L115.6,52.0L115.7,53.2L115.7,54.4L115.8,55.6L115.9,56.8L116.0,58.0L116.0,59.2L116.1,60.3L116.2,61.5L116.3,62.7L116.4,63.9L116.5,65.1L116.5,66.3L116.6,67.5L116.7,68.7L116.8,69.8L116.9,71.0L117.0,72.2L117.1,73.4L117.1,74.6L117.2,75.8L117.3,77.0L117.4,78.2L117.5,79.3L117.6,80.5L117.7,81.7L117.8,82.9L117.9,84.1L118.0,85.3L118.1,86.5L118.2,87.7L118.3,88.9L118.4,90.0L118.5,91.2L118.6,92.4L118.7,93.6L118.8,94.8L118.9,96.0L119.0,97.2L119.1,98.4L119.3,99.6L119.4,100.8L119.5,102.0L119.6,103.2L119.7,104.4L119.8,105.6L120.0,106.7L120.1,107.9L120.2,109.1L120.3,110.3L120.5,111.5L120.6,112.7L120.7,113.9L120.8,115.1L121.0,116.4L121.1,117.6L121.3,118.8L121.4,120.0L121.5,121.2L121.7,122.4L121.8,123.6L122.0,124.8L122.1,126.0L122.3,127.2L122.4,128.4L122.6,129.6L122.7,130.9L122.9,132.1L123.0,133.3L123.2,134.5L123.4,135.7L123.5,137.0L123.7,138.2L123.9,139.4L124.0,140.6L124.2,141.9L124.4,143.1L124.6,144.3L124.8,145.5L125.0,146.8L125.1,148.0L125.4,149.2L125.6,150.5L125.8,151.7L126.0,152.9L126.2,154.1L126.5,155.4L126.8,156.6L127.0,157.8L127.3,159.0L127.6,160.2L127.9,161.4L128.2,162.6L128.6,163.7L129.0,164.9L129.3,166.1L129.7,167.2L130.2,168.3L130.6,169.5L131.1,170.6L131.6,171.7L132.1,172.8L132.6,173.9L133.2,174.9L133.8,176.0L134.4,177.0L135.1,178.0L135.7,179.0L136.5,180.0L137.2,181.0L137.9,181.9L138.7,182.9L139.5,183.8L140.3,184.7L141.2,185.5L142.0,186.4L142.9,187.2L143.8,188.1L144.6,188.9L145.6,189.7L146.5,190.5L147.4,191.3L148.3,192.0L149.3,192.8L150.2,193.5L151.2,194.3L152.1,195.0L153.1,195.8L154.1,196.5L155.0,197.2L156.0,198.0L156.9,198.7L157.8,199.4L158.8,200.2L159.7,200.9L160.6,201.7L161.5,202.4L162.4,203.2L163.3,204.0L164.2,204.7L165.1,205.5L166.0,206.3L166.8,207.1L167.7,207.9L168.5,208.7L169.4,209.6L170.2,210.4L171.1,211.2L171.9,212.1L172.7,212.9L173.6,213.8L174.4,214.6L175.2,215.5L176.0,216.4L176.8,217.2L177.6,218.1L178.4,219.0L179.2,219.9L180.0,220.8L180.8,221.7L181.6,222.6L182.3,223.5L183.1,224.4L183.9,225.3L184.6,226.2L185.4,227.2L186.2,228.1L186.9,229.0L187.7,230.0L188.4,230.9L189.2,231.8L189.9,232.8L190.7,233.7L191.4,234.7L192.1,235.6L192.9,236.6L193.6,237.5L194.4,238.5L195.1,239.5L195.8,240.4L196.5,241.4L197.3,242.4L198.0,243.3L198.7,244.3L199.4,245.3L200.2,246.2L200.9,247.2L201.6,248.2L202.3,249.2L203.0,250.1L203.8,251.1L204.5,252.1L205.2,253.1L205.9,254.0L206.6,255.0L207.4,256.0L208.1,257.0L208.8,257.9L209.5,258.9L210.2,259.9L211.0,260.9L211.7,261.8L212.4,262.8L213.1,263.8L213.8,264.7L214.6,265.7L215.3,266.7L216.0,267.7L216.7,268.6L217.5,269.6L218.2,270.6L218.9,271.5L219.6,272.5L220.4,273.4L221.1,274.4L221.8,275.4L222.6,276.3L223.3,277.3L224.1,278.2L224.8,279.2L225.5,280.1L226.3,281.1L227.0,282.0L227.8,283.0L228.5,283.9L229.3,284.9L230.0,285.8L230.8,286.7L231.6,287.7L232.3,288.6L233.1,289.5L233.9,290.5L234.6,291.4L235.4,292.3L236.2,293.2L237.0,294.1L237.8,295.1L238.5,296.0L239.3,296.9L240.1,297.8L240.9,298.7L241.7,299.6L242.5,300.5L243.3,301.4L244.1,302.2L245.0,303.1L245.8,304.0L246.6,304.9L247.4,305.8L248.3,306.6L249.1,307.5L249.9,308.4L250.8,309.2L251.6,310.1L252.5,310.9L253.4,311.7L254.2,312.6L255.1,313.4L256.0,314.3L256.8,315.1L257.7,315.9L258.6,316.7L259.5,317.5L260.4,318.3L261.3,319.1L262.2,319.9L263.1,320.7L264.0,321.5L265.0,322.3L265.9,323.1L266.8,323.8L267.8,324.6L268.7,325.4L269.7,326.1L270.6,326.9L271.6,327.6L272.6,328.3L273.6,329.1L274.5,329.8L275.5,330.5L276.5,331.2L277.5,331.9L278.5,332.6L279.6,333.3L280.6,334.0L281.6,334.7L282.6,335.4L283.7,336.0L284.7,336.7L285.7,337.3L286.8,338.0L287.8,338.6L288.9,339.2L290.0,339.9L291.0,340.5L292.1,341.1L293.2,341.7L294.2,342.3L295.3,342.9L296.4,343.5L297.5,344.0L298.6,344.6L299.7,345.1L300.8,345.7L301.9,346.2L303.0,346.8L304.1,347.3L305.2,347.8L306.4,348.3L307.5,348.8L308.6,349.3L309.7,349.8L310.9,350.3L312.0,350.7L313.1,351.2L314.3,351.6L315.4,352.1L316.6,352.5L317.7,352.9L318.9,353.3L320.0,353.8L321.2,354.1L322.3,354.5L323.5,354.9L324.6,355.3L325.8,355.6L327.0,356.0L328.1,356.3L329.3,356.7L330.5,357.0L331.6,357.3L332.8,357.6L334.0,357.9L335.2,358.2L336.3,358.4L337.5,358.7L338.7,359.0L339.9,359.2L341.0,359.5L342.2,359.7L343.4,359.9L344.6,360.2L345.8,360.4L347.0,360.6L348.1,360.8L349.3,361.0L350.5,361.2L351.7,361.3L352.9,361.5L354.1,361.7L355.3,361.8L356.5,362.0L357.7,362.2L358.9,362.3L360.1,362.5L361.2,362.6L362.4,362.7L363.6,362.9L364.8,363.0L366.0,363.1L367.2,363.2L368.4,363.3L369.6,363.4L370.8,363.5L372.0,363.6L373.2,363.7L374.4,363.8L375.6,363.9L376.8,364.0L378.0,364.1L379.2,364.2L380.4,364.3L381.7,364.3L382.9,364.4L384.1,364.5L385.3,364.6L386.5,364.6L387.7,364.7L388.9,364.8L390.1,364.8L391.3,364.9L392.5,365.0L393.7,365.0L394.9,365.1L396.2,365.1L397.4,365.2L398.6,365.2L399.8,365.3L401.0,365.3L402.2,365.4L403.4,365.4L404.6,365.5L405.8,365.5L407.1,365.5L408.3,365.6L409.5,365.6L410.7,365.7L411.9,365.7L413.1,365.7L414.3,365.7L415.6,365.8L416.8,365.8L418.0,365.8L419.2,365.8L420.4,365.9L421.6,365.9L422.8,365.9L424.1,365.9L425.3,365.9L426.5,366.0L427.7,366.0L428.9,366.0L430.1,366.0L431.3,366.0L432.5,366.0L433.8,366.0L435.0,366.1L436.2,366.1L437.4,366.1L438.6,366.1L439.8,366.1L441.0,366.1L442.2,366.1L443.4,366.1L444.6,366.1L445.9,366.1L447.1,366.1L448.3,366.1L449.5,366.1L450.7,366.1L451.9,366.1L453.1,366.1L454.3,366.1L455.5,366.1L456.7,366.1L457.9,366.1L459.1,366.1L460.3,366.1L461.5,366.1L462.7,366.1L463.9,366.1L465.1,366.1L466.3,366.1L467.5,366.1L468.7,366.1L469.9,366.1L471.1,366.1L472.2,366.1L473.4,366.1L474.6,366.1L475.8,366.1L477.0,366.1L478.2,366.1L479.4,366.1L480.6,366.1L481.7,366.1L482.9,366.1L482.9,362.9L481.7,362.9L480.6,362.9L479.4,362.9L478.2,362.9L477.0,362.9L475.8,362.9L474.6,362.9L473.4,362.9L472.2,362.9L471.1,362.9L469.9,362.9L468.7,362.9L467.5,362.9L466.3,362.9L465.1,362.9L463.9,362.9L462.7,362.9L461.5,362.9L460.3,362.9L459.1,362.9L457.9,362.9L456.7,362.9L455.5,362.9L454.3,362.9L453.1,362.9L451.9,362.9L450.7,362.9L449.5,362.9L448.3,362.9L447.1,362.9L445.9,362.9L444.6,362.9L443.4,362.9L442.2,362.9L441.0,362.9L439.8,362.9L438.6,362.9L437.4,362.9L436.2,362.9L435.0,362.9L433.8,362.9L432.6,362.9L431.4,362.8L430.2,362.8L428.9,362.8L427.7,362.8L426.5,362.8L425.3,362.8L424.1,362.7L422.9,362.7L421.7,362.7L420.5,362.7L419.3,362.7L418.1,362.6L416.8,362.6L415.6,362.6L414.4,362.5L413.2,362.5L412.0,362.5L410.8,362.4L409.6,362.4L408.4,362.4L407.2,362.3L406.0,362.3L404.7,362.2L403.5,362.2L402.3,362.2L401.1,362.1L399.9,362.1L398.7,362.0L397.5,361.9L396.3,361.9L395.1,361.8L393.9,361.8L392.7,361.7L391.5,361.6L390.3,361.6L389.1,361.5L387.9,361.4L386.7,361.4L385.5,361.3L384.3,361.2L383.1,361.1L381.9,361.1L380.7,361.0L379.5,360.9L378.3,360.8L377.1,360.7L375.9,360.6L374.7,360.5L373.5,360.4L372.3,360.3L371.1,360.2L369.9,360.1L368.7,360.0L367.6,359.9L366.4,359.7L365.2,359.6L364.0,359.5L362.8,359.3L361.6,359.2L360.5,359.1L359.3,358.9L358.1,358.8L356.9,358.6L355.8,358.4L354.6,358.3L353.4,358.1L352.2,357.9L351.1,357.7L349.9,357.5L348.7,357.3L347.6,357.1L346.4,356.9L345.3,356.7L344.1,356.4L342.9,356.2L341.8,356.0L340.6,355.7L339.5,355.4L338.3,355.2L337.2,354.9L336.0,354.6L334.9,354.3L333.7,354.0L332.6,353.7L331.5,353.4L330.3,353.1L329.2,352.7L328.1,352.4L326.9,352.0L325.8,351.7L324.7,351.3L323.5,350.9L322.4,350.5L321.3,350.1L320.2,349.7L319.0,349.3L317.9,348.9L316.8,348.5L315.7,348.0L314.6,347.6L313.5,347.1L312.4,346.6L311.3,346.2L310.2,345.7L309.1,345.2L308.0,344.7L306.9,344.2L305.8,343.7L304.7,343.2L303.7,342.6L302.6,342.1L301.5,341.5L300.4,341.0L299.4,340.4L298.3,339.9L297.3,339.3L296.2,338.7L295.2,338.1L294.1,337.5L293.1,336.9L292.0,336.3L291.0,335.7L290.0,335.1L288.9,334.5L287.9,333.8L286.9,333.2L285.9,332.5L284.9,331.9L283.9,331.2L282.9,330.5L281.9,329.9L280.9,329.2L279.9,328.5L279.0,327.8L278.0,327.1L277.0,326.4L276.1,325.7L275.1,325.0L274.2,324.3L273.2,323.5L272.3,322.8L271.4,322.1L270.4,321.3L269.5,320.6L268.6,319.8L267.7,319.0L266.8,318.3L265.9,317.5L265.0,316.7L264.1,316.0L263.2,315.2L262.3,314.4L261.5,313.6L260.6,312.8L259.7,312.0L258.9,311.2L258.0,310.4L257.2,309.5L256.3,308.7L255.5,307.9L254.6,307.1L253.8,306.2L253.0,305.4L252.2,304.5L251.3,303.7L250.5,302.8L249.7,302.0L248.9,301.1L248.1,300.2L247.3,299.4L246.5,298.5L245.7,297.6L244.9,296.7L244.1,295.9L243.3,295.0L242.5,294.1L241.7,293.2L241.0,292.3L240.2,291.4L239.4,290.5L238.6,289.6L237.9,288.7L237.1,287.8L236.4,286.8L235.6,285.9L234.8,285.0L234.1,284.1L233.3,283.1L232.6,282.2L231.8,281.3L231.1,280.4L230.3,279.4L229.6,278.5L228.9,277.5L228.1,276.6L227.4,275.6L226.7,274.7L225.9,273.8L225.2,272.8L224.5,271.8L223.7,270.9L223.0,269.9L222.3,269.0L221.5,268.0L220.8,267.1L220.1,266.1L219.4,265.1L218.7,264.2L217.9,263.2L217.2,262.2L216.5,261.3L215.8,260.3L215.0,259.3L214.3,258.4L213.6,257.4L212.9,256.4L212.2,255.4L211.5,254.5L210.7,253.5L210.0,252.5L209.3,251.5L208.6,250.6L207.9,249.6L207.1,248.6L206.4,247.6L205.7,246.7L205.0,245.7L204.3,244.7L203.5,243.7L202.8,242.8L202.1,241.8L201.4,240.8L200.6,239.8L199.9,238.9L199.2,237.9L198.4,236.9L197.7,236.0L197.0,235.0L196.2,234.0L195.5,233.1L194.7,232.1L194.0,231.1L193.2,230.2L192.5,229.2L191.7,228.3L191.0,227.3L190.2,226.4L189.4,225.4L188.7,224.5L187.9,223.5L187.1,222.6L186.3,221.7L185.6,220.7L184.8,219.8L184.0,218.9L183.2,218.0L182.4,217.1L181.6,216.2L180.8,215.3L179.9,214.4L179.1,213.5L178.3,212.6L177.5,211.7L176.6,210.8L175.8,209.9L174.9,209.1L174.1,208.2L173.2,207.4L172.4,206.5L171.5,205.7L170.6,204.8L169.7,204.0L168.8,203.2L167.9,202.4L167.0,201.6L166.1,200.8L165.2,200.0L164.2,199.2L163.3,198.4L162.4,197.6L161.4,196.9L160.5,196.1L159.5,195.4L158.5,194.6L157.6,193.9L156.6,193.2L155.7,192.4L154.7,191.7L153.8,191.0L152.9,190.2L151.9,189.5L151.0,188.8L150.1,188.0L149.2,187.3L148.4,186.5L147.5,185.7L146.6,185.0L145.8,184.2L145.0,183.4L144.2,182.6L143.4,181.8L142.7,180.9L141.9,180.1L141.2,179.2L140.5,178.4L139.8,177.5L139.2,176.6L138.5,175.7L137.9,174.8L137.3,173.9L136.8,172.9L136.2,172.0L135.7,171.0L135.2,170.0L134.7,169.0L134.2,167.9L133.8,166.9L133.4,165.8L133.0,164.8L132.6,163.7L132.2,162.6L131.8,161.5L131.5,160.4L131.2,159.2L130.9,158.1L130.6,156.9L130.3,155.8L130.0,154.6L129.8,153.4L129.5,152.2L129.3,151.0L129.0,149.8L128.8,148.6L128.6,147.4L128.4,146.2L128.2,145.0L128.0,143.8L127.8,142.6L127.6,141.4L127.5,140.1L127.3,138.9L127.1,137.7L126.9,136.5L126.8,135.3L126.6,134.1L126.4,132.8L126.3,131.6L126.1,130.4L126.0,129.2L125.8,128.0L125.7,126.8L125.5,125.6L125.4,124.4L125.2,123.2L125.1,122.0L124.9,120.8L124.8,119.6L124.6,118.4L124.5,117.2L124.4,116.0L124.2,114.8L124.1,113.6L123.9,112.4L123.8,111.2L123.7,110.0L123.6,108.8L123.4,107.6L123.3,106.4L123.2,105.2L123.1,104.0L122.9,102.8L122.8,101.6L122.7,100.4L122.6,99.3L122.5,98.1L122.4,96.9L122.3,95.7L122.1,94.5L122.0,93.3L121.9,92.1L121.8,90.9L121.7,89.8L121.6,88.6L121.5,87.4L121.4,86.2L121.3,85.0L121.2,83.8L121.1,82.6L121.0,81.5L120.9,80.3L120.8,79.1L120.7,77.9L120.6,76.7L120.5,75.5L120.5,74.3L120.4,73.2L120.3,72.0L120.2,70.8L120.1,69.6L120.0,68.4L119.9,67.2L119.8,66.0L119.8,64.9L119.7,63.7L119.6,62.5L119.5,61.3L119.4,60.1L119.3,58.9L119.3,57.7L119.2,56.6L119.1,55.4L119.0,54.2L118.9,53.0L118.9,51.8L118.8,50.6L118.7,49.4L118.6,48.2L118.6,47.0L118.5,45.8L118.4,44.6L118.3,43.4L118.3,42.2L118.2,41.1L118.1,39.9L118.0,38.7L118.0,37.5L117.9,36.3L117.8,35.1L117.7,33.9L117.7,32.7L117.6,31.5L117.5,30.2L117.4,29.0L117.4,27.8L117.3,26.6L117.2,25.4L117.1,24.2L117.1,23.0L117.0,21.8L116.9,20.6L116.8,19.4L116.8,18.1L116.7,16.9L116.6,15.7L116.6,14.5L116.5,13.3L116.4,12.1L116.3,10.8L116.2,9.6L116.2,8.4L116.1,7.1L116.0,5.9L115.9,4.7L115.9,3.5L115.8,2.2L115.7,1.0L115.6,-0.2Z" fill="#00f"/>
</g>
<g stroke="#000" stroke-width="2" fill="none">
<rect x="65.0" y="17.3" width="472.3" height="346.7"/>
<path d="M85.84,364.00v-4.4M85.84,17.30v4.4M120.56,364.00v-8.0M120.56,17.30v8.0M155.29,364.00v-4.4M155.29,17.30v4.4M190.02,364.00v-8.0M190.02,17.30v8.0M224.75,364.00v-4.4M224.75,17.30v4.4M259.48,364.00v-8.0M259.48,17.30v8.0M294.20,364.00v-4.4M294.20,17.30v4.4M328.93,364.00v-8.0M328.93,17.30v8.0M363.66,364.00v-4.4M363.66,17.30v4.4M398.39,364.00v-8.0M398.39,17.30v8.0M433.12,364.00v-4.4M433.12,17.30v4.4M467.84,364.00v-8.0M467.84,17.30v8.0M502.57,364.00v-4.4M502.57,17.30v4.4M65.00,335.11h4.5M537.30,335.11h-4.5M65.00,306.22h9.0M537.30,306.22h-9.0M65.00,277.32h4.5M537.30,277.32h-4.5M65.00,248.43h9.0M537.30,248.43h-9.0M65.00,219.54h4.5M537.30,219.54h-4.5M65.00,190.65h9.0M537.30,190.65h-9.0M65.00,161.76h4.5M537.30,161.76h-4.5M65.00,132.87h9.0M537.30,132.87h-9.0M65.00,103.98h4.5M537.30,103.98h-4.5M65.00,75.08h9.0M537.30,75.08h-9.0M65.00,46.19h4.5M537.30,46.19h-4.5" stroke-width="2"/>
</g>
<g font-size="17.7">
<text x="61.3" y="370.1" text-anchor="end">0</text>
<text x="61.3" y="312.3" text-anchor="end">1</text>
<text x="61.3" y="254.5" text-anchor="end">2</text>
<text x="61.3" y="196.8" text-anchor="end">3</text>
<text x="61.3" y="139.0" text-anchor="end">4</text>
<text x="61.3" y="81.2" text-anchor="end">5</text>
<text x="61.3" y="23.4" text-anchor="end">6</text>
<text x="120.6" y="381.2" text-anchor="middle">1</text>
<text x="190.0" y="381.2" text-anchor="middle">1.5</text>
<text x="259.5" y="381.2" text-anchor="middle">2</text>
<text x="328.9" y="381.2" text-anchor="middle">2.5</text>
<text x="398.4" y="381.2" text-anchor="middle">3</text>
<text x="467.8" y="381.2" text-anchor="middle">3.5</text>
<text x="537.3" y="381.2" text-anchor="middle">4</text>
</g>
<text font-style="italic" font-size="30.3" x="289.2" y="400.5">r<tspan font-size="23.5" dx="0.5" dy="13" letter-spacing="0.6">ij</tspan></text>
<text font-style="italic" font-size="30" transform="translate(30,223.4) rotate(-90)">U(r<tspan font-size="21.5" dx="1" dy="13" letter-spacing="-0.3">ij</tspan><tspan dy="-13">)</tspan></text>
<path d="M266,60.2H313.2" stroke="#00f" stroke-width="3.3"/>
<path d="M266,80.2H282.7M291.8,80.2H308.4" stroke="#f00" stroke-width="3.3"/>
<g font-size="17.5"><text x="326.2" y="64.1" textLength="169.6">P-P interaction potential</text><text x="326.2" y="84.6" textLength="177">W-P interaction potential</text></g>
<g>
<ellipse cx="419.9" cy="235.5" rx="39.8" ry="36" fill="#36a8f2" stroke="#c890b0" stroke-width="0.7"/>
<ellipse cx="420.2" cy="235.7" rx="13.4" ry="11" fill="#16479a"/>
<circle cx="408.1" cy="228.5" r="2.1" fill="url(#t)"/>
<circle cx="411.9" cy="224.9" r="2.1" fill="url(#t)"/>
<circle cx="423.9" cy="223.8" r="2.1" fill="url(#t)"/>
<circle cx="432.4" cy="228.7" r="2.1" fill="url(#t)"/>
<circle cx="435.1" cy="234.4" r="2.1" fill="url(#t)"/>
<circle cx="433.0" cy="239.7" r="2.1" fill="url(#t)"/>
<circle cx="429.8" cy="245.6" r="2.1" fill="url(#t)"/>
<circle cx="423.9" cy="248.1" r="2.1" fill="url(#t)"/>
<circle cx="416.1" cy="247.7" r="2.1" fill="url(#t)"/>
<circle cx="381.0" cy="204.8" r="2.5" fill="url(#g)" stroke="#c05890" stroke-width="0.45"/>
<circle cx="387.3" cy="203.7" r="2.5" fill="url(#g)" stroke="#c05890" stroke-width="0.45"/>
<circle cx="391.8" cy="206.9" r="2.5" fill="url(#g)" stroke="#c05890" stroke-width="0.45"/>
<circle cx="394.9" cy="211.1" r="2.5" fill="url(#g)" stroke="#c05890" stroke-width="0.45"/>
<circle cx="399.6" cy="215.4" r="2.5" fill="url(#g)" stroke="#c05890" stroke-width="0.45"/>
<circle cx="402.8" cy="220.0" r="2.5" fill="url(#g)" stroke="#c05890" stroke-width="0.45"/>
<circle cx="406.4" cy="216.4" r="2.5" fill="url(#g)" stroke="#c05890" stroke-width="0.45"/>
<circle cx="408.7" cy="221.3" r="2.5" fill="url(#g)" stroke="#c05890" stroke-width="0.45"/>
<circle cx="407.2" cy="201.2" r="2.5" fill="url(#g)" stroke="#c05890" stroke-width="0.45"/>
<circle cx="411.6" cy="204.8" r="2.5" fill="url(#g)" stroke="#c05890" stroke-width="0.45"/>
<circle cx="410.2" cy="209.7" r="2.5" fill="url(#g)" stroke="#c05890" stroke-width="0.45"/>
<circle cx="415.5" cy="211.1" r="2.5" fill="url(#g)" stroke="#c05890" stroke-width="0.45"/>
<circle cx="420.1" cy="208.0" r="2.5" fill="url(#g)" stroke="#c05890" stroke-width="0.45"/>
<circle cx="420.1" cy="213.3" r="2.5" fill="url(#g)" stroke="#c05890" stroke-width="0.45"/>
<circle cx="415.0" cy="217.1" r="2.5" fill="url(#g)" stroke="#c05890" stroke-width="0.45"/>
<circle cx="421.4" cy="219.2" r="2.5" fill="url(#g)" stroke="#c05890" stroke-width="0.45"/>
<circle cx="379.9" cy="228.1" r="2.5" fill="url(#g)" stroke="#c05890" stroke-width="0.45"/>
<circle cx="381.6" cy="232.3" r="2.5" fill="url(#g)" stroke="#c05890" stroke-width="0.45"/>
<circle cx="386.5" cy="227.6" r="2.5" fill="url(#g)" stroke="#c05890" stroke-width="0.45"/>
<circle cx="392.8" cy="224.9" r="2.5" fill="url(#g)" stroke="#c05890" stroke-width="0.45"/>
<circle cx="394.9" cy="229.5" r="2.5" fill="url(#g)" stroke="#c05890" stroke-width="0.45"/>
<circle cx="397.5" cy="233.3" r="2.5" fill="url(#g)" stroke="#c05890" stroke-width="0.45"/>
<circle cx="401.1" cy="229.1" r="2.5" fill="url(#g)" stroke="#c05890" stroke-width="0.45"/>
<circle cx="403.8" cy="232.3" r="2.5" fill="url(#g)" stroke="#c05890" stroke-width="0.45"/>
<circle cx="439.8" cy="221.3" r="2.5" fill="url(#g)" stroke="#c05890" stroke-width="0.45"/>
<circle cx="437.2" cy="224.9" r="2.5" fill="url(#g)" stroke="#c05890" stroke-width="0.45"/>
<circle cx="442.5" cy="228.1" r="2.5" fill="url(#g)" stroke="#c05890" stroke-width="0.45"/>
<circle cx="441.9" cy="232.9" r="2.5" fill="url(#g)" stroke="#c05890" stroke-width="0.45"/>
<circle cx="446.5" cy="222.3" r="2.5" fill="url(#g)" stroke="#c05890" stroke-width="0.45"/>
<circle cx="450.3" cy="227.0" r="2.5" fill="url(#g)" stroke="#c05890" stroke-width="0.45"/>
<circle cx="447.8" cy="231.2" r="2.5" fill="url(#g)" stroke="#c05890" stroke-width="0.45"/>
<circle cx="453.9" cy="230.6" r="2.5" fill="url(#g)" stroke="#c05890" stroke-width="0.45"/>
<circle cx="438.1" cy="239.7" r="2.5" fill="url(#g)" stroke="#c05890" stroke-width="0.45"/>
<circle cx="434.5" cy="244.5" r="2.5" fill="url(#g)" stroke="#c05890" stroke-width="0.45"/>
<circle cx="437.7" cy="247.7" r="2.5" fill="url(#g)" stroke="#c05890" stroke-width="0.45"/>
<circle cx="443.6" cy="249.6" r="2.5" fill="url(#g)" stroke="#c05890" stroke-width="0.45"/>
<circle cx="451.0" cy="250.3" r="2.5" fill="url(#g)" stroke="#c05890" stroke-width="0.45"/>
<circle cx="455.0" cy="246.7" r="2.5" fill="url(#g)" stroke="#c05890" stroke-width="0.45"/>
<circle cx="458.8" cy="241.8" r="2.5" fill="url(#g)" stroke="#c05890" stroke-width="0.45"/>
<circle cx="406.4" cy="248.1" r="2.5" fill="url(#g)" stroke="#c05890" stroke-width="0.45"/>
<circle cx="401.1" cy="251.3" r="2.5" fill="url(#g)" stroke="#c05890" stroke-width="0.45"/>
<circle cx="396.4" cy="254.1" r="2.5" fill="url(#g)" stroke="#c05890" stroke-width="0.45"/>
<circle cx="390.1" cy="256.0" r="2.5" fill="url(#g)" stroke="#c05890" stroke-width="0.45"/>
<circle cx="395.4" cy="258.7" r="2.5" fill="url(#g)" stroke="#c05890" stroke-width="0.45"/>
<circle cx="401.7" cy="258.1" r="2.5" fill="url(#g)" stroke="#c05890" stroke-width="0.45"/>
<circle cx="405.3" cy="254.5" r="2.5" fill="url(#g)" stroke="#c05890" stroke-width="0.45"/>
<circle cx="411.9" cy="251.3" r="2.5" fill="url(#g)" stroke="#c05890" stroke-width="0.45"/>
<circle cx="411.9" cy="257.7" r="2.5" fill="url(#g)" stroke="#c05890" stroke-width="0.45"/>
<circle cx="417.6" cy="258.7" r="2.5" fill="url(#g)" stroke="#c05890" stroke-width="0.45"/>
<circle cx="423.5" cy="256.6" r="2.5" fill="url(#g)" stroke="#c05890" stroke-width="0.45"/>
<circle cx="420.7" cy="251.9" r="2.5" fill="url(#g)" stroke="#c05890" stroke-width="0.45"/>
<circle cx="427.5" cy="251.9" r="2.5" fill="url(#g)" stroke="#c05890" stroke-width="0.45"/>
<circle cx="431.9" cy="250.3" r="2.5" fill="url(#g)" stroke="#c05890" stroke-width="0.45"/>
<circle cx="409.1" cy="266.1" r="2.5" fill="url(#g)" stroke="#c05890" stroke-width="0.45"/>
<circle cx="414.0" cy="264.0" r="2.5" fill="url(#g)" stroke="#c05890" stroke-width="0.45"/>
<circle cx="435.1" cy="259.3" r="2.5" fill="url(#g)" stroke="#c05890" stroke-width="0.45"/>
<circle cx="441.2" cy="260.4" r="2.5" fill="url(#g)" stroke="#c05890" stroke-width="0.45"/>
<circle cx="447.2" cy="259.3" r="2.5" fill="url(#g)" stroke="#c05890" stroke-width="0.45"/>
<circle cx="446.5" cy="264.0" r="2.5" fill="url(#g)" stroke="#c05890" stroke-width="0.45"/>
<circle cx="452.5" cy="263.4" r="2.5" fill="url(#g)" stroke="#c05890" stroke-width="0.45"/>
<circle cx="450.3" cy="268.6" r="2.5" fill="url(#g)" stroke="#c05890" stroke-width="0.45"/>
<circle cx="432.8" cy="254.1" r="2.4" fill="#2a6cf0"/>
<circle cx="407.0" cy="261.2" r="2.4" fill="#2a6cf0"/>
<path d="M411.4,192.1H428.6" stroke="#000" stroke-width="1.5"/><path d="M408.0,192.1l4.8,-2.7v5.4zM432.0,192.1l-4.8,-2.7v5.4z" fill="#000"/>
<path d="M383.6,276.5H458.0" stroke="#000" stroke-width="1.3"/><path d="M380.7,276.5l4.2,-2.2v4.4zM460.9,276.5l-4.2,-2.2v4.4z" fill="#000"/>
<text class="s" font-size="8" x="419.6" y="187.6" text-anchor="middle">Hard Core</text>
<text class="s" font-size="7.8" x="418.4" y="283.4" text-anchor="middle">Soft Shell</text>
</g>
</svg></body></html>
